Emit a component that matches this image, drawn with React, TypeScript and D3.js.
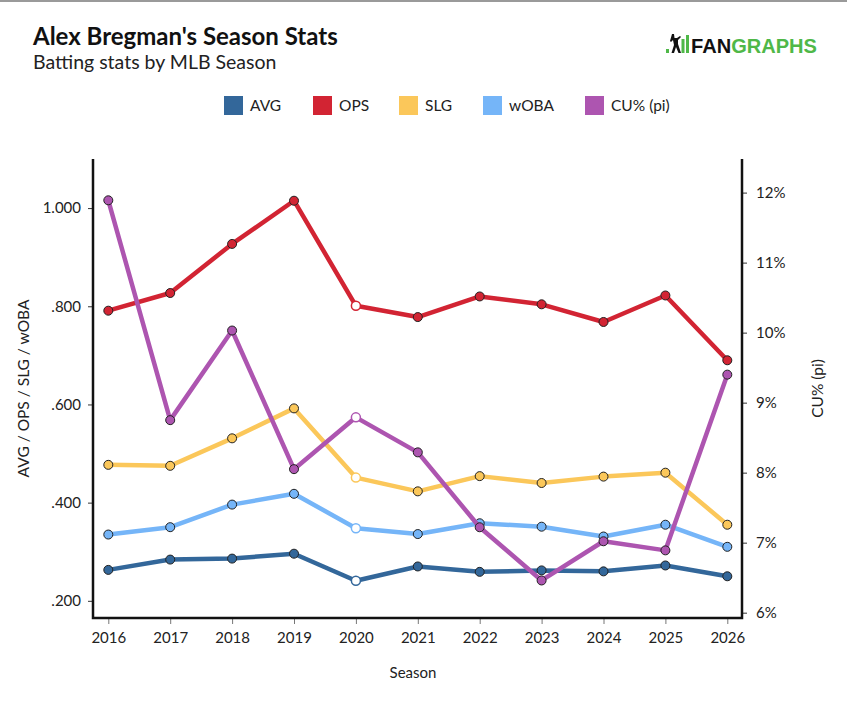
import React, { useEffect, useRef } from 'react';
import * as d3 from 'd3';

const seasons = [2016, 2017, 2018, 2019, 2020, 2021, 2022, 2023, 2024, 2025, 2026];
const avg = [0.263, 0.284, 0.286, 0.296, 0.241, 0.270, 0.259, 0.262, 0.260, 0.272, 0.250];
const ops = [0.791, 0.827, 0.927, 1.015, 0.801, 0.778, 0.820, 0.804, 0.768, 0.822, 0.690];
const slg = [0.477, 0.475, 0.531, 0.592, 0.451, 0.423, 0.454, 0.440, 0.453, 0.461, 0.355];
const woba = [0.335, 0.350, 0.396, 0.418, 0.348, 0.336, 0.358, 0.351, 0.331, 0.355, 0.310];
const cuPct = [11.89, 8.75, 10.03, 8.05, 8.79, 8.29, 7.22, 6.46, 7.02, 6.89, 9.40];

// seasons drawn with open markers
const openSeasons = [2020];

const leftTicks = [0.2, 0.4, 0.6, 0.8, 1.0];
const rightTicks = [6, 7, 8, 9, 10, 11, 12];

const seriesList = [
  { name: 'AVG', values: avg, color: '#33679a', axis: 'left' },
  { name: 'OPS', values: ops, color: '#d22433', axis: 'left' },
  { name: 'SLG', values: slg, color: '#fbc75a', axis: 'left' },
  { name: 'wOBA', values: woba, color: '#75b5f8', axis: 'left' },
  { name: 'CU% (pi)', values: cuPct, color: '#ad55b0', axis: 'right' },
];

const W = 847;
const H = 712;
const FONT = 'Lato, "Noto Sans", sans-serif';

export default function App() {
  const ref = useRef<SVGSVGElement | null>(null);

  useEffect(() => {
    const svg = d3.select(ref.current);
    svg.selectAll('*').remove();

    const left = 93, right = 742, top = 159, bottom = 618;

    const x = d3.scaleLinear().domain([2016, 2026]).range([108.3, 727.3]);
    const yL = d3.scaleLinear().domain([0.165, 1.1]).range([bottom, top]);
    const yR = d3.scaleLinear().domain([5.924, 12.48]).range([bottom, top]);

    svg.append('rect').attr('width', W).attr('height', H).attr('fill', '#fff');
    svg.append('rect').attr('x', 0).attr('y', 0).attr('width', W).attr('height', 2).attr('fill', '#9a9a9a');

    // titles
    svg.append('text').attr('x', 33).attr('y', 45)
      .style('font-family', FONT).style('font-weight', 700).style('font-size', '24px').attr('fill', '#111')
      .text("Alex Bregman's Season Stats");
    svg.append('text').attr('x', 33).attr('y', 69)
      .style('font-family', FONT).style('font-size', '19.5px').attr('fill', '#222')
      .text('Batting stats by MLB Season');

    // logo
    const logo = svg.append('g').attr('transform', 'translate(666,33)');
    logo.append('rect').attr('x', 0).attr('y', 16).attr('width', 3).attr('height', 4).attr('fill', '#4fb848');
    logo.append('path')
      .attr('d', 'M6,1 L8,1 L8.5,5 L11,5 L14,3 L15,4 L12,7 L12,11 L15,20 L12.5,20 L10,14 L8,20 L5.5,20 L8,12 L7,7 L5,9 L4,8 Z')
      .attr('fill', '#111');
    logo.append('rect').attr('x', 15.5).attr('y', 6).attr('width', 3).attr('height', 14).attr('fill', '#4fb848');
    logo.append('rect').attr('x', 20).attr('y', 2).attr('width', 3).attr('height', 18).attr('fill', '#4fb848');
    const lt = logo.append('text').attr('x', 25).attr('y', 20)
      .attr('textLength', 126).attr('lengthAdjust', 'spacingAndGlyphs')
      .style('font-family', '"Liberation Sans", Arial, sans-serif').style('font-weight', 700).style('font-size', '21px');
    lt.append('tspan').attr('fill', '#111').text('FAN');
    lt.append('tspan').attr('fill', '#4fb848').text('GRAPHS');

    // legend
    const legendX = [224, 313, 399, 483, 585];
    seriesList.forEach((s, i) => {
      const g = svg.append('g').attr('transform', `translate(${legendX[i]},96)`);
      g.append('rect').attr('width', 19).attr('height', 19).attr('fill', s.color);
      g.append('text').attr('x', 26).attr('y', 15)
        .style('font-family', FONT).style('font-size', '15.5px').attr('fill', '#222').text(s.name);
    });

    // axes
    const axisStyle = (g: any) => {
      g.select('.domain').remove();
      g.selectAll('.tick line').attr('stroke', '#333');
      g.selectAll('.tick text').style('font-family', FONT).style('font-size', '15px').attr('fill', '#222');
    };
    const fmtL = (d: number) => {
      const s = d3.format('.3f')(d);
      return d < 1 ? s.replace(/^0/, '') : s;
    };
    svg.append('g').attr('transform', `translate(${left},0)`)
      .call(d3.axisLeft(yL).tickValues(leftTicks).tickFormat(fmtL as any).tickSize(5).tickPadding(7))
      .call(axisStyle);
    svg.append('g').attr('transform', `translate(${right},0)`)
      .call(d3.axisRight(yR).tickValues(rightTicks).tickFormat((d: any) => `${d}%`).tickSize(5).tickPadding(9))
      .call(axisStyle);
    svg.append('g').attr('transform', `translate(0,${bottom})`)
      .call(d3.axisBottom(x).tickValues(seasons).tickFormat(d3.format('d') as any).tickSize(6).tickPadding(8))
      .call(axisStyle)
      .call((g: any) => g.selectAll('.tick line').attr('stroke', '#777'));

    svg.append('path')
      .attr('d', `M${left},${top} L${left},${bottom} L${right},${bottom} L${right},${top}`)
      .attr('fill', 'none').attr('stroke', '#111').attr('stroke-width', 2.5);

    // axis titles
    svg.append('text').attr('transform', `translate(29,${(top + bottom) / 2}) rotate(-90)`)
      .attr('text-anchor', 'middle').style('font-family', FONT).style('font-size', '15.5px').attr('fill', '#222')
      .text('AVG / OPS / SLG / wOBA');
    svg.append('text').attr('transform', `translate(823,${(top + bottom) / 2}) rotate(-90)`)
      .attr('text-anchor', 'middle').style('font-family', FONT).style('font-size', '15.5px').attr('fill', '#222')
      .text('CU% (pi)');
    svg.append('text').attr('x', 413).attr('y', 678)
      .attr('text-anchor', 'middle').style('font-family', FONT).style('font-size', '15px').attr('fill', '#222')
      .text('Season');

    // series
    seriesList.forEach((s) => {
      const y = s.axis === 'left' ? yL : yR;
      const pts = seasons.map((yr, i) => ({ yr, v: s.values[i] }));
      const line = d3.line<{ yr: number; v: number }>().x(d => x(d.yr)).y(d => y(d.v));
      svg.append('path').datum(pts).attr('d', line)
        .attr('fill', 'none').attr('stroke', s.color).attr('stroke-width', 4.5)
        .attr('stroke-linejoin', 'round');
      svg.append('g').selectAll('circle').data(pts).join('circle')
        .attr('cx', d => x(d.yr)).attr('cy', d => y(d.v)).attr('r', 4.5)
        .attr('fill', d => (openSeasons.includes(d.yr) ? '#fff' : s.color))
        .attr('stroke', d => (openSeasons.includes(d.yr) ? s.color : '#222'))
        .attr('stroke-width', d => (openSeasons.includes(d.yr) ? 1.5 : 1));
    });
  }, []);

  return (
    <svg ref={ref} width={W} height={H}
      style={{ position: 'absolute', left: 0, top: 0, display: 'block' }} />
  );
}
